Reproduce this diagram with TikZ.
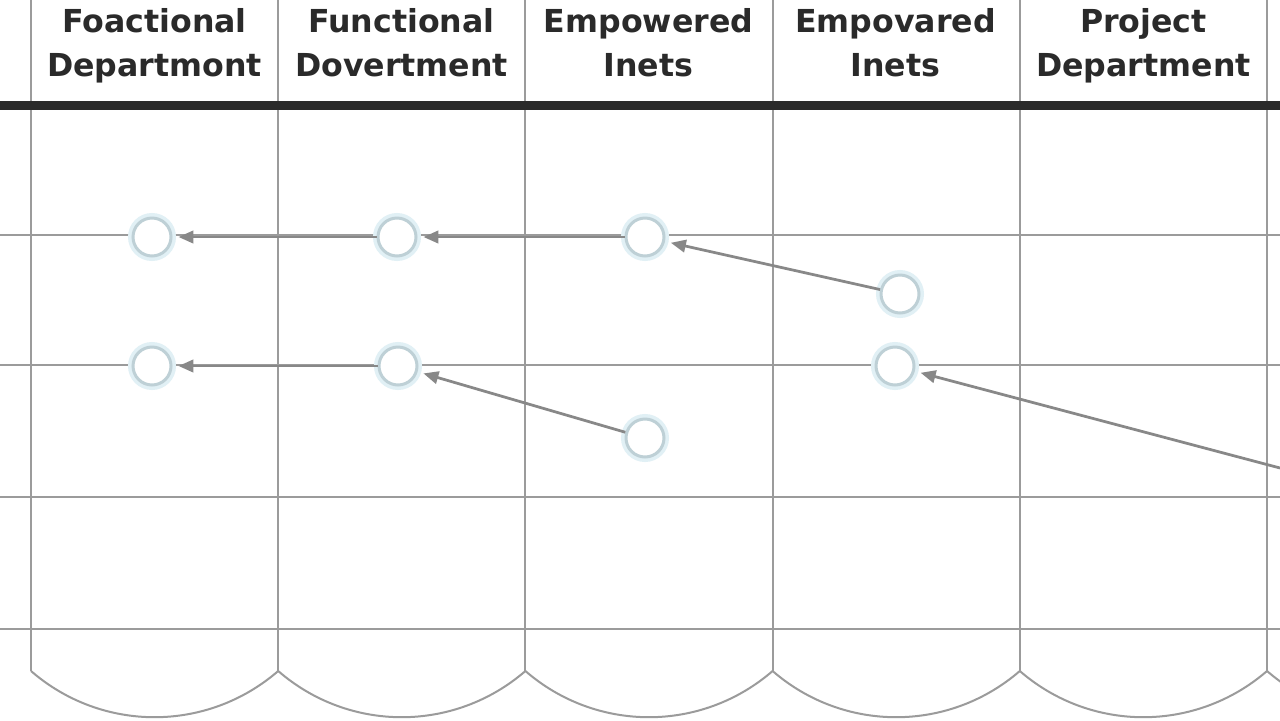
\documentclass[tikz,border=0pt]{standalone}
\usepackage{fontspec}
\setmainfont{DejaVu Sans}
\usetikzlibrary{arrows.meta}

\definecolor{gridgray}{RGB}{155,155,155}
\definecolor{arrowgray}{RGB}{136,136,136}
\definecolor{ringblue}{RGB}{190,208,214}
\definecolor{glowblue}{RGB}{225,240,245}
\definecolor{inkdark}{RGB}{42,42,42}

\tikzset{
  gridline/.style={draw=gridgray, line width=0.04cm},
  headrule/.style={draw=inkdark, line width=0.18cm},
  heading/.style={anchor=north, inner sep=0pt, align=center, text=inkdark,
    font=\fontsize{18}{25}\selectfont\bfseries},
  stage/.style={circle, draw=ringblue, line width=0.06cm, fill=white,
    minimum size=0.76cm, inner sep=0pt, preaction={draw=glowblue, line width=0.2cm}},
  flow/.style={draw=arrowgray, line width=0.055cm,
    -{Triangle[length=0.3cm,width=0.25cm]}, shorten >=0.12cm},
}

\begin{document}
\begin{tikzpicture}[x=0.02cm, y=-0.02cm]
	\pgfmathsetmacro{\colWidth}{247.2}
	\fill[white] (0,0) rectangle (1280,720);
	\useasboundingbox (0,0) rectangle (1280,720);
	\clip (0,0) rectangle (1280,720);

	% Lanes and rows
\foreach \y in {235,365,497,629} {
	\draw[gridline] (0,\y) -- (1280,\y);
}
\foreach \i in {0,...,5} {
	\pgfmathsetmacro{\x}{31+\i*\colWidth}
	\draw[gridline] (\x,0) -- (\x,671);
	\draw[gridline] (\x,671) .. controls (\x+71,732.6) and (\x+176,732.6) .. (\x+\colWidth,671);
}
\draw[headrule] (0,105) -- (1280,105);

	% Column headings
\node[heading] (fa) at (154.5,8) {Foactional\\Departmont};
\node[heading] (fb) at (401.5,8) {Functional\\Dovertment};
\node[heading] (ea) at (648.5,8) {Empowered\\Inets};
\node[heading] (eb) at (895.5,8) {Empovared\\Inets};
\node[heading] (pd) at (1143.5,8) {Project\\Department};

	% Stages
\node[stage] (a1) at (152,237) {};
\node[stage] (b1) at (397,237) {};
\node[stage] (c1) at (645,237) {};
\node[stage] (d1) at (900,294) {};
\node[stage] (a2) at (152,366) {};
\node[stage] (b2) at (398,366) {};
\node[stage] (c2) at (645,438) {};
\node[stage] (d2) at (895,366) {};
\coordinate (inflow) at (1280,468);

\draw[flow] (c1) -- (b1);
\draw[flow] (b1) -- (a1);
\draw[flow] (d1) -- (c1);
\draw[flow] (b2) -- (a2);
\draw[flow] (c2) -- (b2);
\draw[flow] (inflow) -- (d2);
\end{tikzpicture}
\end{document}
